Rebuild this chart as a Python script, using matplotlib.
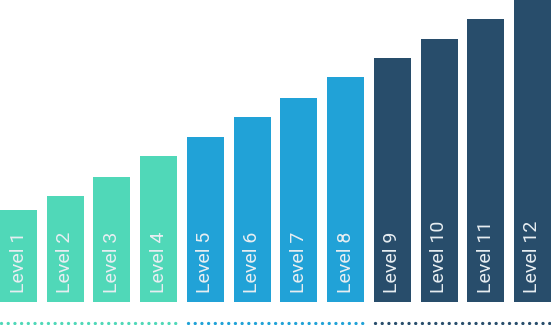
import matplotlib
matplotlib.use("Agg")
import matplotlib.pyplot as plt
import numpy as np

# bar data (pixel-ish units)
levels = ["Level %d" % i for i in range(1, 13)]
values = [92, 106, 125, 146, 165, 185, 204, 225, 244, 263, 283, 304]
groups = [0, 0, 0, 0, 1, 1, 1, 1, 2, 2, 2, 2]
group_colors = ["#50d8b8", "#21a2d7", "#284d6b"]

bar_w = 0.792
x = np.arange(len(levels))

fig = plt.figure(figsize=(5.51, 3.25), dpi=100)
ax = fig.add_axes([0, 0, 1, 1])

colors = [group_colors[g] for g in groups]
ax.bar(x, values, width=bar_w, color=colors, edgecolor="none")

for xi, label in zip(x, levels):
    ax.text(xi, 9, label, rotation=90, ha="center", va="bottom",
            color="#e8eef2", fontsize=14, family="Roboto")

# dotted rules under each group of four
for g, col in enumerate(group_colors):
    idx = [i for i in x if groups[i] == g]
    ax.plot([idx[0] - bar_w / 2 + 0.03, idx[-1] + bar_w / 2 - 0.03], [-21, -21],
            color=col, lw=2.4, linestyle=(0, (0.01, 2.0)),
            dash_capstyle="round", solid_capstyle="round")

ax.set_xlim(-bar_w / 2, len(levels) - 1 + bar_w / 2)
ax.set_ylim(-23, 302)
ax.axis("off")

plt.savefig("out.png", dpi=100)
